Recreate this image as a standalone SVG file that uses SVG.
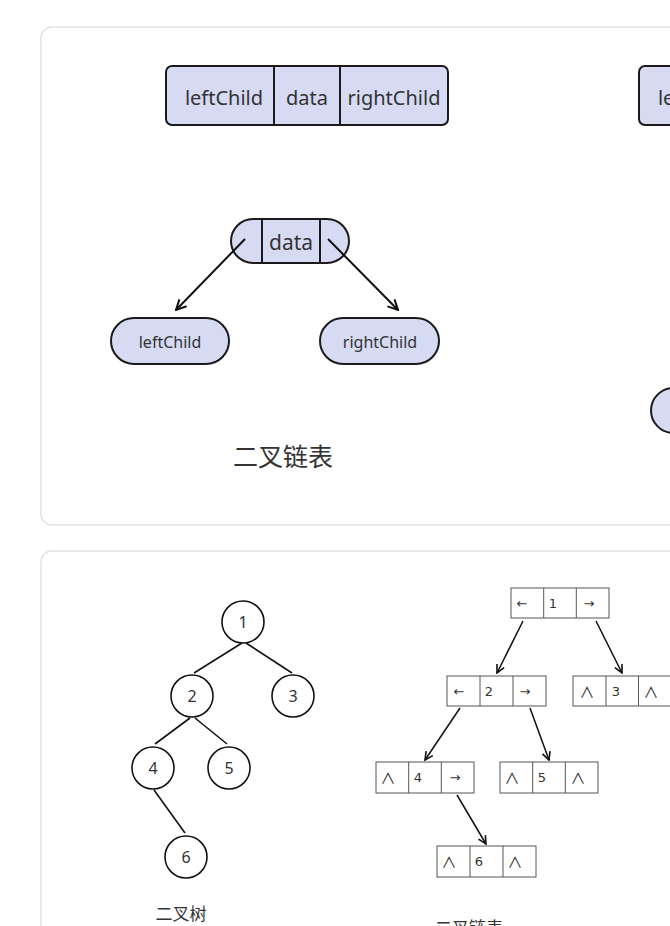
<svg xmlns="http://www.w3.org/2000/svg" width="670" height="926" viewBox="0 0 670 926">
<style>
.panel{fill:#ffffff;stroke:#e2e2e2;stroke-width:1.5}
.rec{fill:#d6daf3;stroke:#1a1a1a;stroke-width:2}
.div{stroke:#1a1a1a;stroke-width:2}
.t{font-family:"Noto Sans","Open Sans",sans-serif;fill:#333;text-anchor:middle;dominant-baseline:central}
.cn{font-family:"Noto Sans CJK SC","Noto Sans",sans-serif;fill:#333;text-anchor:middle}
.arr{stroke:#111;stroke-width:2;fill:none}
.tree{stroke:#111;stroke-width:1.6;fill:none}
.circ{fill:#fff;stroke:#111;stroke-width:1.6}
.box{fill:#fff;stroke:#555;stroke-width:1}
.bt{font-family:"DejaVu Sans","Noto Sans",sans-serif;font-size:13px;fill:#333;text-anchor:middle;dominant-baseline:central}
.wedge{font-family:"Noto Sans CJK SC","DejaVu Sans",sans-serif;font-size:15px;fill:#333;text-anchor:middle;dominant-baseline:central}
.la{stroke:#111;stroke-width:1.5;fill:none}
</style>
<defs>
<marker id="ah" viewBox="0 0 12 12" refX="11" refY="6" markerWidth="12" markerHeight="12" markerUnits="userSpaceOnUse" orient="auto">
<path d="M1,1 L11,6 L1,11" fill="none" stroke="#111" stroke-width="2"/>
</marker>
<marker id="ah2" viewBox="0 0 10 10" refX="9" refY="5" markerWidth="10" markerHeight="10" markerUnits="userSpaceOnUse" orient="auto">
<path d="M1,1 L9,5 L1,9" fill="none" stroke="#111" stroke-width="1.6"/>
</marker>
</defs>
<rect width="670" height="926" fill="#ffffff"/>
<rect class="panel" x="41" y="27" width="660" height="498" rx="11"/>
<rect class="panel" x="41" y="551" width="660" height="420" rx="11"/>

<g id="record">
<rect class="rec" x="166" y="66" width="282" height="59" rx="6"/>
<line class="div" x1="274" y1="66" x2="274" y2="125"/>
<line class="div" x1="340" y1="66" x2="340" y2="125"/>
<text class="t" x="224" y="97" font-size="20">leftChild</text>
<text class="t" x="307" y="97" font-size="20">data</text>
<text class="t" x="394" y="97" font-size="20">rightChild</text>
</g>
<g id="record2">
<rect class="rec" x="639" y="66" width="282" height="59" rx="6"/>
<text class="t" x="697" y="97" font-size="20">leftChild</text>
</g>
<g id="dataNode">
<rect class="rec" x="231" y="219" width="118" height="44" rx="22"/>
<line class="div" x1="262" y1="219" x2="262" y2="263"/>
<line class="div" x1="320" y1="219" x2="320" y2="263"/>
<text class="t" x="291" y="242" font-size="21">data</text>
</g>
<g id="leftChild">
<rect class="rec" x="111" y="318" width="118" height="46" rx="23"/>
<text class="t" x="170" y="342" font-size="16">leftChild</text>
</g>
<g id="rightChild">
<rect class="rec" x="320" y="318" width="119" height="46" rx="23"/>
<text class="t" x="380" y="342" font-size="16">rightChild</text>
</g>
<g id="partialPill">
<rect class="rec" x="651" y="388" width="120" height="45" rx="22.5"/>
</g>
<g id="connectors1">
<line class="arr" x1="245" y1="239" x2="176" y2="310" marker-end="url(#ah)"/>
<line class="arr" x1="328" y1="239" x2="398" y2="310" marker-end="url(#ah)"/>
</g>
<text class="cn" x="283" y="466" font-size="25">二叉链表</text>

<g id="treeEdges">
<line class="tree" x1="242" y1="643" x2="194" y2="673"/>
<line class="tree" x1="246" y1="643" x2="292" y2="673"/>
<line class="tree" x1="190" y1="718" x2="155" y2="744"/>
<line class="tree" x1="195" y1="718" x2="227" y2="744"/>
<line class="tree" x1="154" y1="790" x2="185" y2="833"/>
</g>
<g id="t1"><circle class="circ" cx="243" cy="622" r="21"/><text class="t" x="243" y="622" font-size="16">1</text></g>
<g id="t2"><circle class="circ" cx="192" cy="696" r="21"/><text class="t" x="192" y="696" font-size="16">2</text></g>
<g id="t3"><circle class="circ" cx="293" cy="696" r="21"/><text class="t" x="293" y="696" font-size="16">3</text></g>
<g id="t4"><circle class="circ" cx="153" cy="768" r="21"/><text class="t" x="153" y="768" font-size="16">4</text></g>
<g id="t5"><circle class="circ" cx="229" cy="768" r="21"/><text class="t" x="229" y="768" font-size="16">5</text></g>
<g id="t6"><circle class="circ" cx="186" cy="857" r="21"/><text class="t" x="186" y="857" font-size="16">6</text></g>
<text class="cn" x="181" y="920" font-size="17">二叉树</text>

<g id="l1">
<rect class="box" x="511" y="588" width="98" height="30"/>
<line class="box" x1="543.7" y1="588" x2="543.7" y2="618"/>
<line class="box" x1="576.3" y1="588" x2="576.3" y2="618"/>
<text class="bt" x="522" y="603">←</text><text class="bt" x="553" y="603">1</text><text class="bt" x="589" y="603">→</text>
</g>
<g id="l2">
<rect class="box" x="447" y="676" width="99" height="30"/>
<line class="box" x1="480" y1="676" x2="480" y2="706"/>
<line class="box" x1="513" y1="676" x2="513" y2="706"/>
<text class="bt" x="459" y="691">←</text><text class="bt" x="489" y="691">2</text><text class="bt" x="525" y="691">→</text>
</g>
<g id="l3">
<rect class="box" x="573" y="676" width="98" height="30"/>
<line class="box" x1="606" y1="676" x2="606" y2="706"/>
<line class="box" x1="638.5" y1="676" x2="638.5" y2="706"/>
<text class="wedge" x="587" y="691">∧</text><text class="bt" x="616" y="691">3</text><text class="wedge" x="651" y="691">∧</text>
</g>
<g id="l4">
<rect class="box" x="376" y="762" width="98" height="31"/>
<line class="box" x1="408.7" y1="762" x2="408.7" y2="793"/>
<line class="box" x1="441.3" y1="762" x2="441.3" y2="793"/>
<text class="wedge" x="388" y="777.5">∧</text><text class="bt" x="418" y="777.5">4</text><text class="bt" x="455" y="777.5">→</text>
</g>
<g id="l5">
<rect class="box" x="500" y="762" width="98" height="31"/>
<line class="box" x1="532.7" y1="762" x2="532.7" y2="793"/>
<line class="box" x1="565.3" y1="762" x2="565.3" y2="793"/>
<text class="wedge" x="512" y="777.5">∧</text><text class="bt" x="542" y="777.5">5</text><text class="wedge" x="578" y="777.5">∧</text>
</g>
<g id="l6">
<rect class="box" x="437" y="846" width="99" height="31"/>
<line class="box" x1="470" y1="846" x2="470" y2="877"/>
<line class="box" x1="503" y1="846" x2="503" y2="877"/>
<text class="wedge" x="449" y="861.5">∧</text><text class="bt" x="479" y="861.5">6</text><text class="wedge" x="515" y="861.5">∧</text>
</g>
<g id="connectors2">
<line class="la" x1="523" y1="621" x2="497" y2="673" marker-end="url(#ah2)"/>
<line class="la" x1="596" y1="621" x2="622" y2="673" marker-end="url(#ah2)"/>
<line class="la" x1="460" y1="708" x2="425" y2="760" marker-end="url(#ah2)"/>
<line class="la" x1="530" y1="708" x2="549" y2="760" marker-end="url(#ah2)"/>
<line class="la" x1="457" y1="795" x2="486" y2="844" marker-end="url(#ah2)"/>
</g>
<text class="cn" x="469" y="934" font-size="17">二叉链表</text>
</svg>
